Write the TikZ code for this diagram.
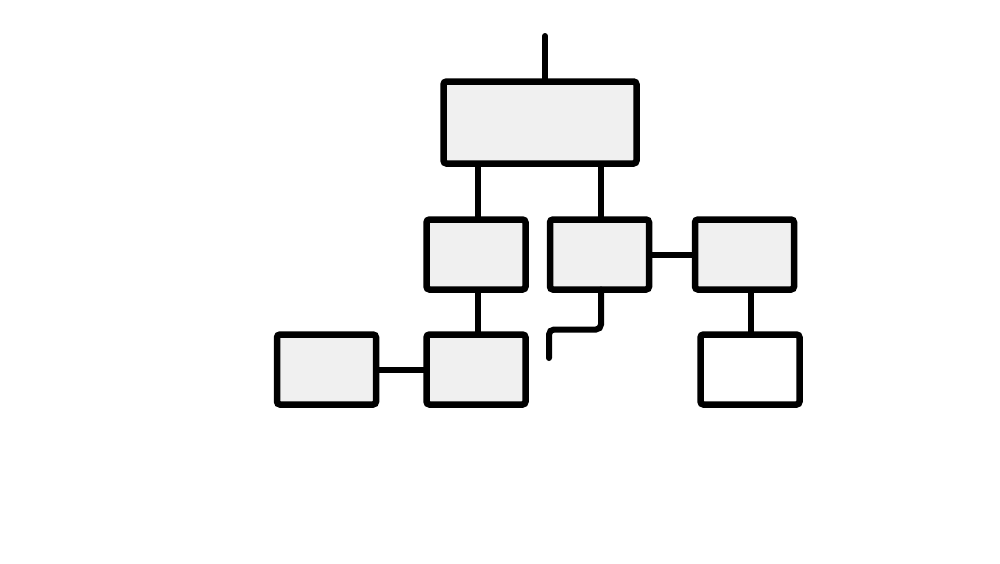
\documentclass[tikz,border=0pt]{standalone}
\usetikzlibrary{shadows}
\begin{document}
\begin{tikzpicture}[x=1pt,y=-1pt,
  box/.style={draw=black, line width=6.5pt, fill=gray!12, rounded corners=3pt,
    inner sep=0pt, outer sep=0pt,
    drop shadow={opacity=0.25, shadow xshift=1.5pt, shadow yshift=-1.5pt}},
  wbox/.style={box, fill=white},
  small/.style={minimum width=99pt, minimum height=70pt},
  link/.style={draw=black, line width=6pt, line cap=round}]
\useasboundingbox[fill=white] (0,0) rectangle (1000,563);
\node[box, minimum width=193pt, minimum height=82pt] (top) at (540,122.5) {};
\node[box, small] (A) at (476,254.5) {};
\node[box, small] (B) at (599.5,254.5) {};
\node[box, small] (C) at (744.5,254.5) {};
\node[box, small] (D) at (476,369.5) {};
\node[box, small] (E) at (326.5,369.5) {};
\node[wbox, small] (F) at (750,369.5) {};
\coordinate (t0) at (545,36);
\coordinate (dangle) at (549,358);
\draw[link] (t0) -- (t0 |- top.north);
\draw[link,line cap=butt] ([xshift=2pt]A.north) -- ([xshift=2pt]A.north |- top.south);
\draw[link,line cap=butt] ([xshift=1.5pt]B.north) -- ([xshift=1.5pt]B.north |- top.south);
\draw[link,line cap=butt] (B.east) -- (C.west);
\draw[link,line cap=butt] ([xshift=2pt]A.south) -- ([xshift=2pt]D.north);
\draw[link,line cap=butt] (E.east) -- (D.west);
\draw[link,line cap=butt] ([xshift=6.5pt]C.south) -- ([xshift=1pt]F.north);
\draw[link, rounded corners=5pt] ([xshift=1.5pt]B.south) -- ([xshift=1.5pt,yshift=-40pt]B.south) -| (dangle);
\end{tikzpicture}
\end{document}
